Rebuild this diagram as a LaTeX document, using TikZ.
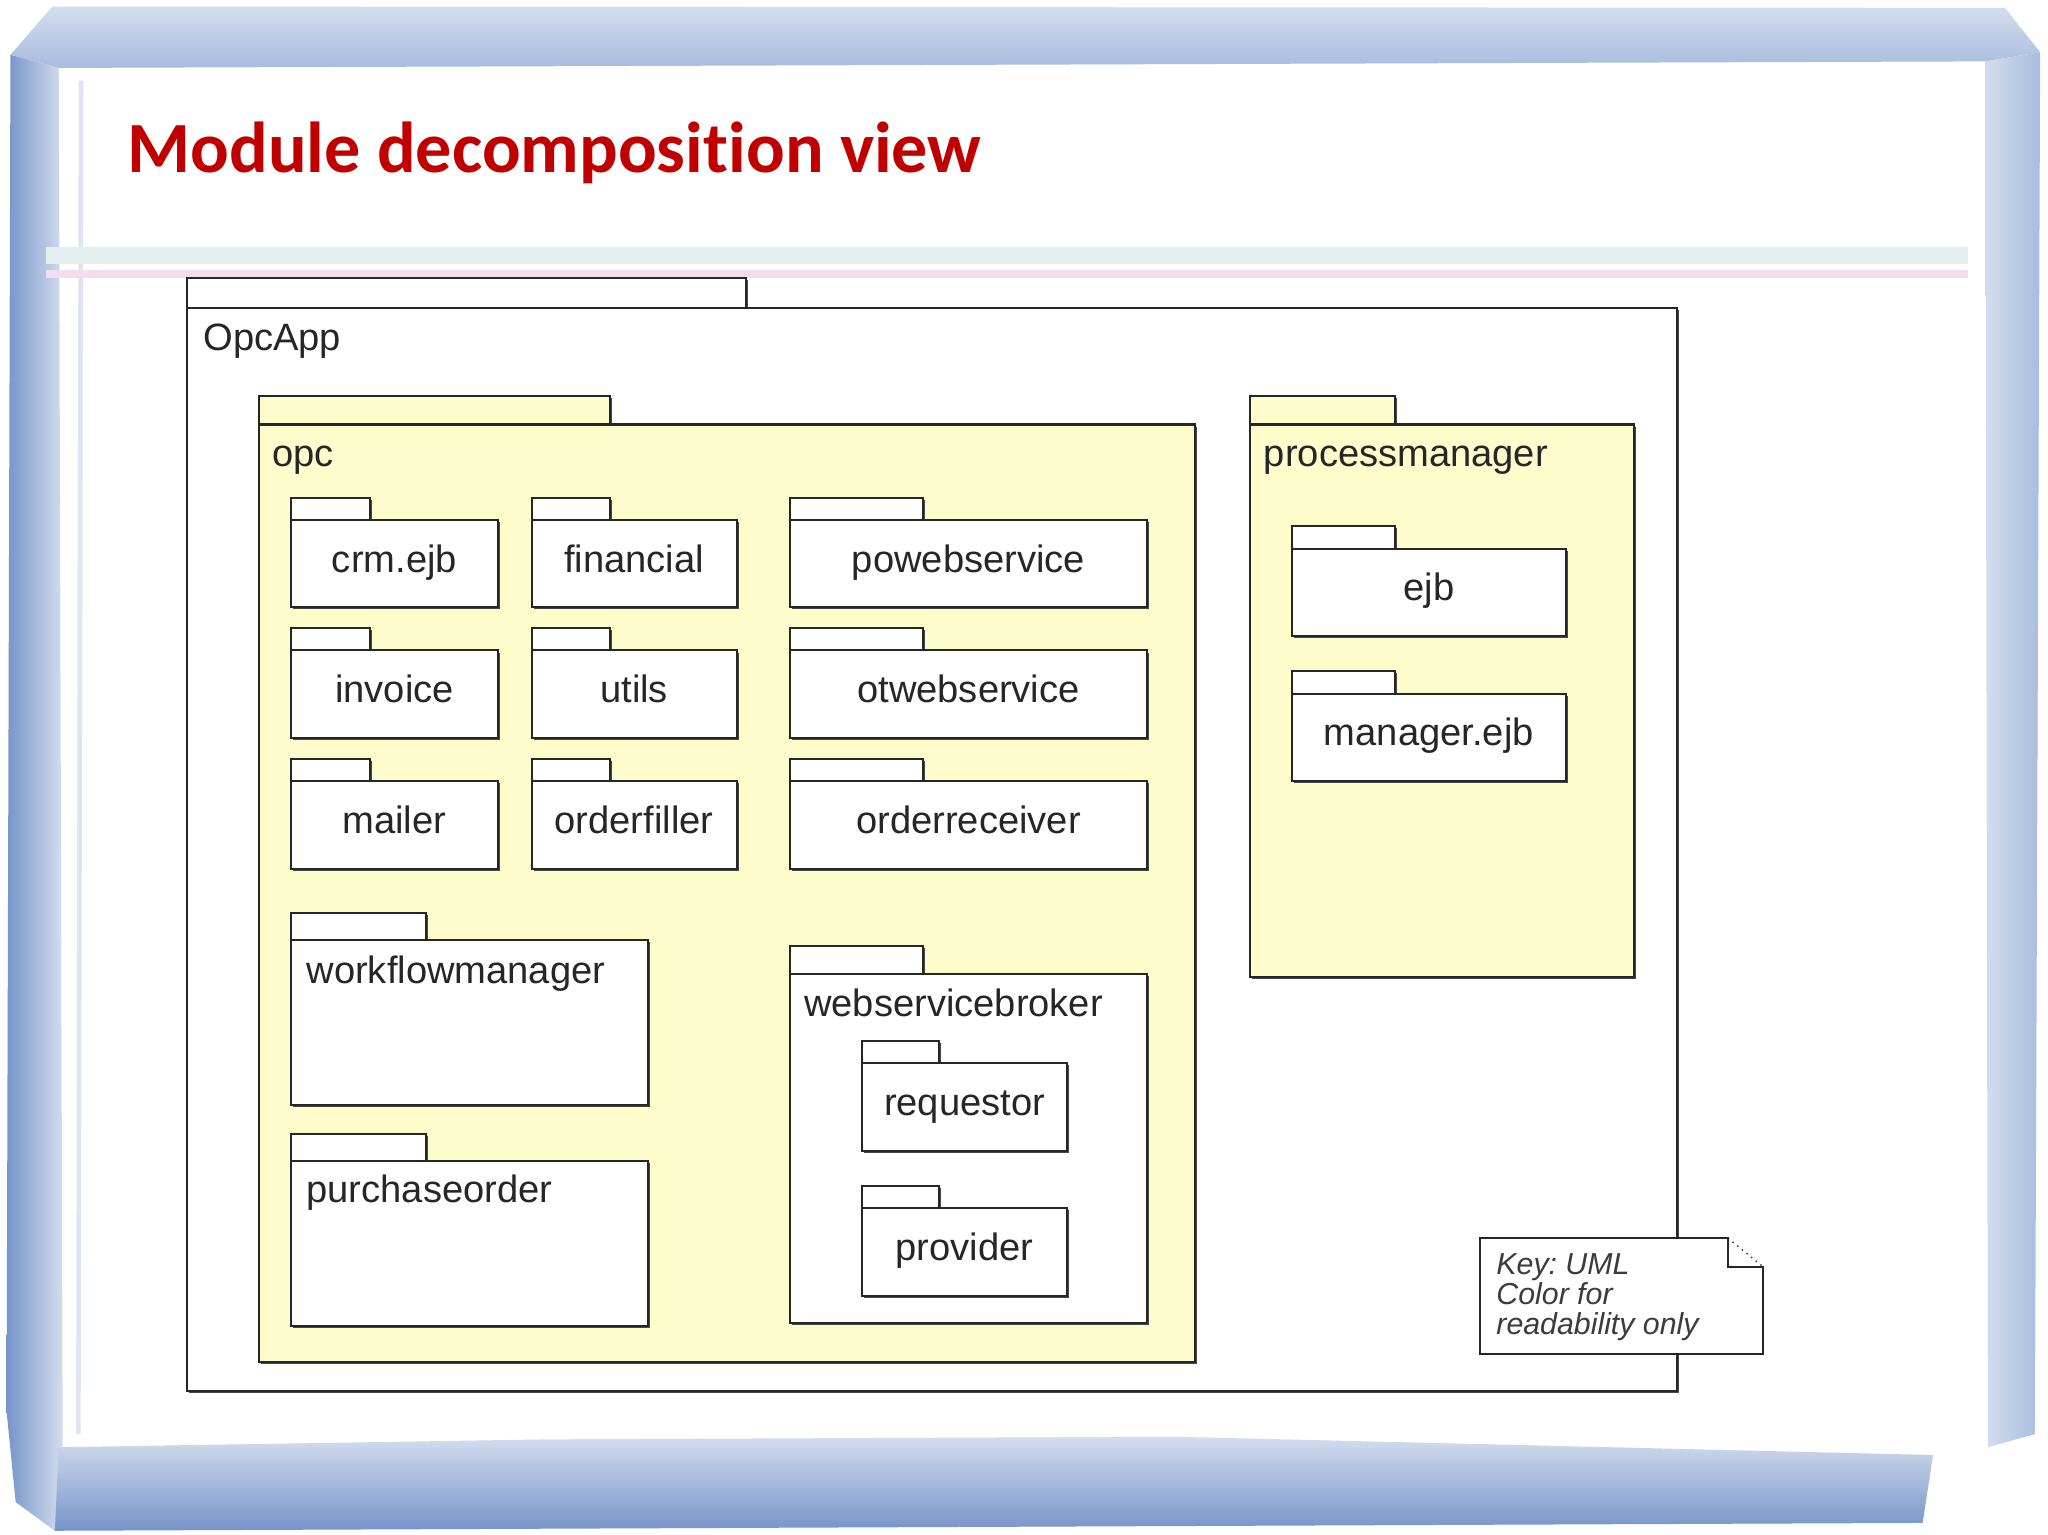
\documentclass[tikz,border=0pt]{standalone}
\usepackage{fontspec}
\setmainfont{Liberation Sans}
\newfontfamily\titlefont[Ligatures=NoCommon]{Carlito}
\usetikzlibrary{shadows}
\frenchspacing

\definecolor{titlered}{HTML}{C00000}
\definecolor{pkgyellow}{HTML}{FDFDCC}
\definecolor{pkgline}{HTML}{262626}
\definecolor{framedark}{HTML}{7594C9}
\definecolor{framemid}{HTML}{A9BCDF}
\definecolor{framelight}{HTML}{D3DDEE}
\definecolor{bandteal}{HTML}{E2EEF0}
\definecolor{bandpink}{HTML}{F3DDF0}

\tikzset{
  pkg/.style={draw=pkgline, fill=white, line width=0.45pt,
    drop shadow={shadow xshift=0.45pt, shadow yshift=-0.45pt, opacity=1, fill=pkgline!85}},
  pkgyel/.style={pkg, fill=pkgyellow},
  pkgname/.style={font=\fontsize{8.3}{10}\selectfont, text=pkgline, inner sep=0pt},
  keynote/.style={font=\itshape\fontsize{6.6}{6.55}\selectfont, text=pkgline!90, inner sep=0pt, align=left}
}

% small package: name, left, body top, width, tab width, text
\newcommand{\smallpkg}[6]{%
  \draw[pkg] (#2,{#3-17}) rectangle ({#2+#5},#3);
  \draw[pkg] (#2,#3) rectangle ({#2+#4},{#3+67});
  \node[pkgname, anchor=base] (#1) at ({#2+#4/2},{#3+40}) {#6};
}

\begin{document}
\begin{tikzpicture}[x=0.01cm, y=-0.01cm]
  \useasboundingbox (0,0) rectangle (1568,1175);
  \fill[white] (0,0) rectangle (1568,1175);

  % Slide frame
  \shade[top color=framelight, bottom color=framemid] (8,42) -- (40,5) -- (1535,6) -- (1562,40) -- (1520,47) -- (45,52) -- cycle;
  \shade[left color=framedark, right color=framelight] (8,42) -- (45,52) -- (48,1108) -- (42,1172) -- (12,1150) -- (5,1080) -- cycle;
  \shade[left color=framelight, right color=framemid] (1520,47) -- (1562,40) -- (1558,1098) -- (1522,1108) -- cycle;
  \shade[top color=framelight, bottom color=framedark] (45,1108) -- (420,1102) -- (900,1100) -- (1480,1114) -- (1472,1166) -- (42,1172) -- cycle;
  \draw[framemid!40, line width=1pt] (62,62) -- (60,1098);
  \fill[bandteal] (35,189) rectangle (1507,202);
  \fill[bandpink] (35,207) rectangle (1507,213);

  % Title
  \node[anchor=base west, inner sep=0pt, text=titlered,
    font=\titlefont\bfseries\fontsize{15.7}{19}\selectfont] (title) at (97,132) {Module decomposition view};

  % OpcApp
  \draw[pkg] (143,213) rectangle (571,236);
  \draw[pkg] (143,236) rectangle (1284,1065);
  \node[pkgname, anchor=base west] (opcapp) at (155,268) {OpcApp};

  % opc
  \draw[pkgyel] (198,303) rectangle (467,325);
  \draw[pkgyel] (198,325) rectangle (915,1043);
  \node[pkgname, anchor=base west] (opc) at (208,357) {opc};

  \foreach \row/\na/\ta/\nb/\tb/\nc/\tc in {
      0/crmejb/crm.ejb/financial/financial/powebservice/powebservice,
      1/invoice/invoice/utils/utils/otwebservice/otwebservice,
      2/mailer/mailer/orderfiller/orderfiller/orderreceiver/orderreceiver} {
    \pgfmathsetmacro\rowtop{398+100*\row}
    \smallpkg{\na}{223}{\rowtop}{158}{60}{\ta}
    \smallpkg{\nb}{407}{\rowtop}{157}{60}{\tb}
    \smallpkg{\nc}{605}{\rowtop}{273}{102}{\tc}
  }

  \draw[pkg] (223,699) rectangle (326,720);
  \draw[pkg] (223,720) rectangle (496,846);
  \node[pkgname, anchor=base west] (workflowmanager) at (234,753) {workflowmanager};

  \draw[pkg] (223,868) rectangle (326,889);
  \draw[pkg] (223,889) rectangle (496,1015);
  \node[pkgname, anchor=base west] (purchaseorder) at (234,921) {purchaseorder};

  % webservicebroker
  \draw[pkg] (605,724) rectangle (707,746);
  \draw[pkg] (605,746) rectangle (878,1013);
  \node[pkgname, anchor=base west] (webservicebroker) at (615,778) {webservicebroker};
  \smallpkg{requestor}{660}{814}{157}{59}{requestor}
  \smallpkg{provider}{660}{925}{157}{59}{provider}

  % processmanager
  \draw[pkgyel] (957,303) rectangle (1068,325);
  \draw[pkgyel] (957,325) rectangle (1251,748);
  \node[pkgname, anchor=base west] (processmanager) at (967,357) {processmanager};
  \smallpkg{ejb}{989}{420}{210}{79}{ejb}
  \smallpkg{managerejb}{989}{531}{210}{79}{manager.ejb}

  % Key note
  \fill[white] (1133,948) -- (1323,948) -- (1350,970) -- (1350,1037) -- (1133,1037) -- cycle;
  \draw[pkgline, line width=0.45pt] (1323,948) -- (1133,948) -- (1133,1037) -- (1350,1037) -- (1350,970) -- (1323,970) -- cycle;
  \draw[pkgline, line width=0.3pt, densely dotted] (1323,948) -- (1350,970);
  \node[keynote, anchor=north west] (key) at (1145,959) {Key: UML\\Color for\\readability only};
\end{tikzpicture}
\end{document}
